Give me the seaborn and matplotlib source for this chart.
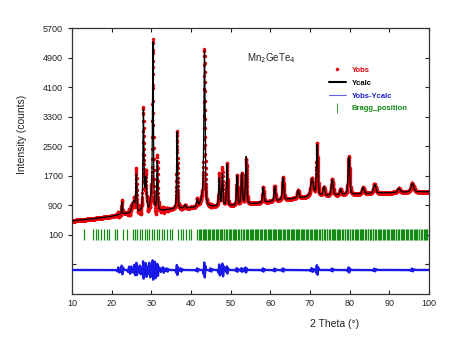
import numpy as np
import pandas as pd
import matplotlib
matplotlib.use("Agg")
import matplotlib.pyplot as plt
import seaborn as sns
from matplotlib.lines import Line2D

# ---------------- data ----------------
# background control points (2theta, counts)
bg_pos = [10, 15, 20, 22, 25, 30, 35, 40, 45, 50, 55, 60, 65, 70, 75, 80, 85, 90, 95, 100]
bg_val = [480, 530, 600, 650, 690, 720, 790, 830, 860, 880, 930, 1000, 1070, 1130, 1160, 1190, 1220, 1240, 1260, 1270]

# reflections: position, height above background, FWHM
peak_pos = [22.6, 25.5, 26.2, 28.0, 28.6, 30.0, 30.4, 31.5, 36.5, 38.5, 41.6, 43.0, 43.4,
            47.1, 47.9, 49.1, 51.6, 52.8, 53.9, 58.2, 61.1, 63.2, 67.0, 70.5, 71.8,
            73.5, 75.6, 77.7, 79.8, 83.4, 86.3, 92.4, 95.8]
peak_hgt = [320, 300, 960, 2720, 880, 380, 4420, 1330, 2080, 90, 200, 300, 4020,
            740, 860, 1120, 800, 840, 1290, 410, 390, 600, 210, 470, 1380,
            240, 430, 150, 1010, 170, 240, 110, 230]
peak_fwhm = [0.25, 0.9, 0.3, 0.3, 0.5, 0.7, 0.28, 0.3, 0.3, 0.4, 0.4, 1.1, 0.35,
             0.35, 0.35, 0.35, 0.35, 0.4, 0.4, 0.4, 0.4, 0.45, 0.5, 0.8, 0.45,
             0.5, 0.55, 0.5, 0.5, 0.6, 0.7, 0.7, 0.8]

# misfit (Yobs - Ycalc) wiggles: position, amplitude, width
mis_pos = [21.8, 22.6, 24.5, 25.0, 25.8, 26.3, 27.2, 28.0, 28.7, 29.6, 30.4, 31.0, 31.6,
           32.3, 33.0, 34.0, 36.5, 37.5, 41.6, 43.4, 45.0, 47.2, 48.0, 49.1, 51.6,
           52.8, 53.8, 58.2, 61.1, 63.2, 70.5, 71.8, 75.6, 79.8, 86.3, 95.8]
mis_amp = [110, 190, 140, 80, 220, 230, 190, 380, 300, 320, 420, 360, 260,
           80, 120, 70, 220, 70, 70, 330, 70, 240, 280, 160, 80,
           80, 110, 70, 60, 70, 80, 210, 60, 110, 60, 60]
mis_w = [0.2, 0.15, 0.2, 0.15, 0.18, 0.12, 0.2, 0.12, 0.15, 0.2, 0.1, 0.15, 0.12,
         0.15, 0.2, 0.15, 0.12, 0.15, 0.15, 0.12, 0.2, 0.15, 0.15, 0.12, 0.15,
         0.15, 0.15, 0.15, 0.15, 0.15, 0.2, 0.15, 0.15, 0.15, 0.2, 0.2]

bragg_pos = [13.1, 15.4, 16.0, 16.6, 17.2, 18.1, 18.8, 19.3, 20.9, 21.4, 22.8, 23.8,
             25.3, 25.8, 26.5, 27.2, 27.6, 28.3, 28.9, 29.4, 30.1, 30.7, 31.4, 32.0,
             32.6, 33.2, 33.9, 34.6, 35.2, 36.8, 37.4, 38.1, 38.8, 39.4, 40.0,
             41.6, 41.9, 42.3, 42.5, 42.9, 43.2, 43.6, 43.8, 44.2, 44.6, 44.9, 45.3, 45.5,
             45.9, 46.3, 46.5, 46.9, 47.2, 47.5, 47.9, 48.2, 48.4, 48.8, 49.1, 49.5, 49.8,
             50.1, 50.5, 50.8, 51.2, 51.4, 51.8, 52.1, 52.5, 52.7, 53.1, 53.4, 53.8, 54.0,
             54.4, 54.8, 55.1, 55.3, 55.7, 56.1, 56.4, 56.6, 57.0, 57.4, 57.6, 58.0, 58.3,
             58.7, 58.9, 59.3, 59.6, 60.0, 60.2, 60.6, 60.9, 61.3, 61.5, 61.9, 62.2, 62.5,
             62.8, 63.2, 63.4, 63.8, 64.1, 64.5, 64.7, 65.1, 65.4, 65.8, 66.0, 66.4, 66.7,
             67.1, 67.3, 67.7, 68.0, 68.3, 68.6, 69.0, 69.3, 69.6, 69.9, 70.3, 70.6, 70.9,
             71.2, 71.6, 71.8, 72.2, 72.5, 72.9, 73.1, 73.5, 73.8, 74.2, 74.4, 74.8, 75.1,
             75.5, 75.7, 76.1, 76.4, 76.7, 77.0, 77.4, 77.6, 78.0, 78.3, 78.7, 78.9, 79.3,
             79.6, 80.0, 80.2, 80.6, 80.9, 81.3, 81.5, 81.9, 82.2, 82.5, 82.8, 83.2, 83.4,
             83.8, 84.1, 84.5, 84.7, 85.1, 85.4, 85.8, 86.0, 86.4, 86.7, 87.1, 87.3, 87.7,
             88.0, 88.3, 88.6, 89.0, 89.3, 89.6, 89.9, 90.3, 90.6, 90.9, 91.2, 91.6, 91.8,
             92.2, 92.5, 92.9, 93.1, 93.5, 93.8, 94.2, 94.4, 94.8, 95.1, 95.5, 95.7, 96.1,
             96.4, 96.7, 97.0, 97.4, 97.6, 98.0, 98.3, 98.7, 98.9, 99.3, 99.6, 99.9]

diff_offset = -850
bragg_level = 100
ytick_vals = [100, 900, 1700, 2500, 3300, 4100, 4900, 5700]
xtick_vals = [10, 20, 30, 40, 50, 60, 70, 80, 90, 100]

# ---------------- profile model ----------------
tt = np.arange(10.0, 100.0001, 0.02)
ycalc = np.interp(tt, bg_pos, bg_val).astype(float)
for p, h, w in zip(peak_pos, peak_hgt, peak_fwhm):
    g = np.exp(-4 * np.log(2) * ((tt - p) / w) ** 2)
    l = 1.0 / (1 + 4 * ((tt - p) / w) ** 2)
    ycalc += h * (0.6 * g + 0.4 * l)
misfit = np.zeros_like(tt)
for p, a, w in zip(mis_pos, mis_amp, mis_w):
    u = (tt - p) / w
    misfit += a * (-u) * np.exp(0.5 - u ** 2 / 2) * np.cos(1.2 * u)
yobs = ycalc + misfit

df = pd.DataFrame({"tt": tt, "yobs": yobs, "ycalc": ycalc, "diff": misfit + diff_offset})

# ---------------- figure ----------------
sns.set_style("ticks")
plt.rcParams["font.family"] = ["Liberation Sans", "DejaVu Sans"]
fig = plt.figure(figsize=(4.74, 3.48), dpi=100)
ax = fig.add_axes([72 / 474, 1 - 294 / 348, 357 / 474, 266 / 348])

sns.scatterplot(data=df, x="tt", y="yobs", ax=ax, color="#e8000b", s=6, linewidth=0,
                marker="o", zorder=2, legend=False)
sns.lineplot(data=df, x="tt", y="ycalc", ax=ax, color="black", lw=0.9, sort=False,
             estimator=None, zorder=3)
sns.lineplot(data=df, x="tt", y="diff", ax=ax, color="#1818e8", lw=1.7, sort=False,
             estimator=None, zorder=3)
ax.vlines(bragg_pos, bragg_level - 150, bragg_level + 150, color="#138a13", lw=0.9, zorder=2)

ax.set_xlim(10, 100)
ax.set_ylim(-1500, 5700)
ax.set_xticks(xtick_vals)
ax.set_yticks(ytick_vals)
ax.set_yticks([-700], minor=True)
ax.tick_params(axis="both", labelsize=6.5, colors="#222222", length=3, width=0.8)
ax.tick_params(axis="x", direction="in", top=True)
ax.tick_params(axis="y", which="major", direction="out", right=False)
ax.tick_params(axis="y", which="minor", direction="in", length=3, width=0.8, right=True)
# right-side inward ticks
axr = ax.secondary_yaxis("right")
axr.set_yticks(ytick_vals + [-700])
axr.tick_params(direction="in", length=3, width=0.8, labelright=False)
axr.spines["right"].set_visible(False)

for s in ax.spines.values():
    s.set_color("#333333")
    s.set_linewidth(0.9)

ax.set_xlabel("2 Theta (°)", fontsize=7.5, color="#222222")
ax.xaxis.set_label_coords(0.735, -0.095)
ax.set_ylabel("Intensity (counts)", fontsize=7.5, color="#222222")
ax.yaxis.set_label_coords(-0.125, 0.6)

ax.text(0.49, 0.887, r"Mn$_2$GeTe$_4$", transform=ax.transAxes, fontsize=7, color="#222222",
        va="center", ha="left")

handles = [
    Line2D([], [], color="#e8000b", marker="o", ls="none", markersize=1.5),
    Line2D([], [], color="black", lw=1.5),
    Line2D([], [], color="#6060e0", lw=0.8),
    Line2D([], [], color="#138a13", marker="|", ls="none", markersize=7, mew=0.6),
]
labels = ["Yobs", "Ycalc", "Yobs-Ycalc", "Bragg_position"]
leg = ax.legend(handles, labels, loc="upper left", bbox_to_anchor=(0.7, 0.88), frameon=False,
                prop={"size": 5.5, "weight": "bold"}, handlelength=2.2, labelspacing=0.7,
                labelcolor=["#e8000b", "black", "#2020d0", "#138a13"])

fig.savefig("out.png", dpi=100, facecolor="white")
